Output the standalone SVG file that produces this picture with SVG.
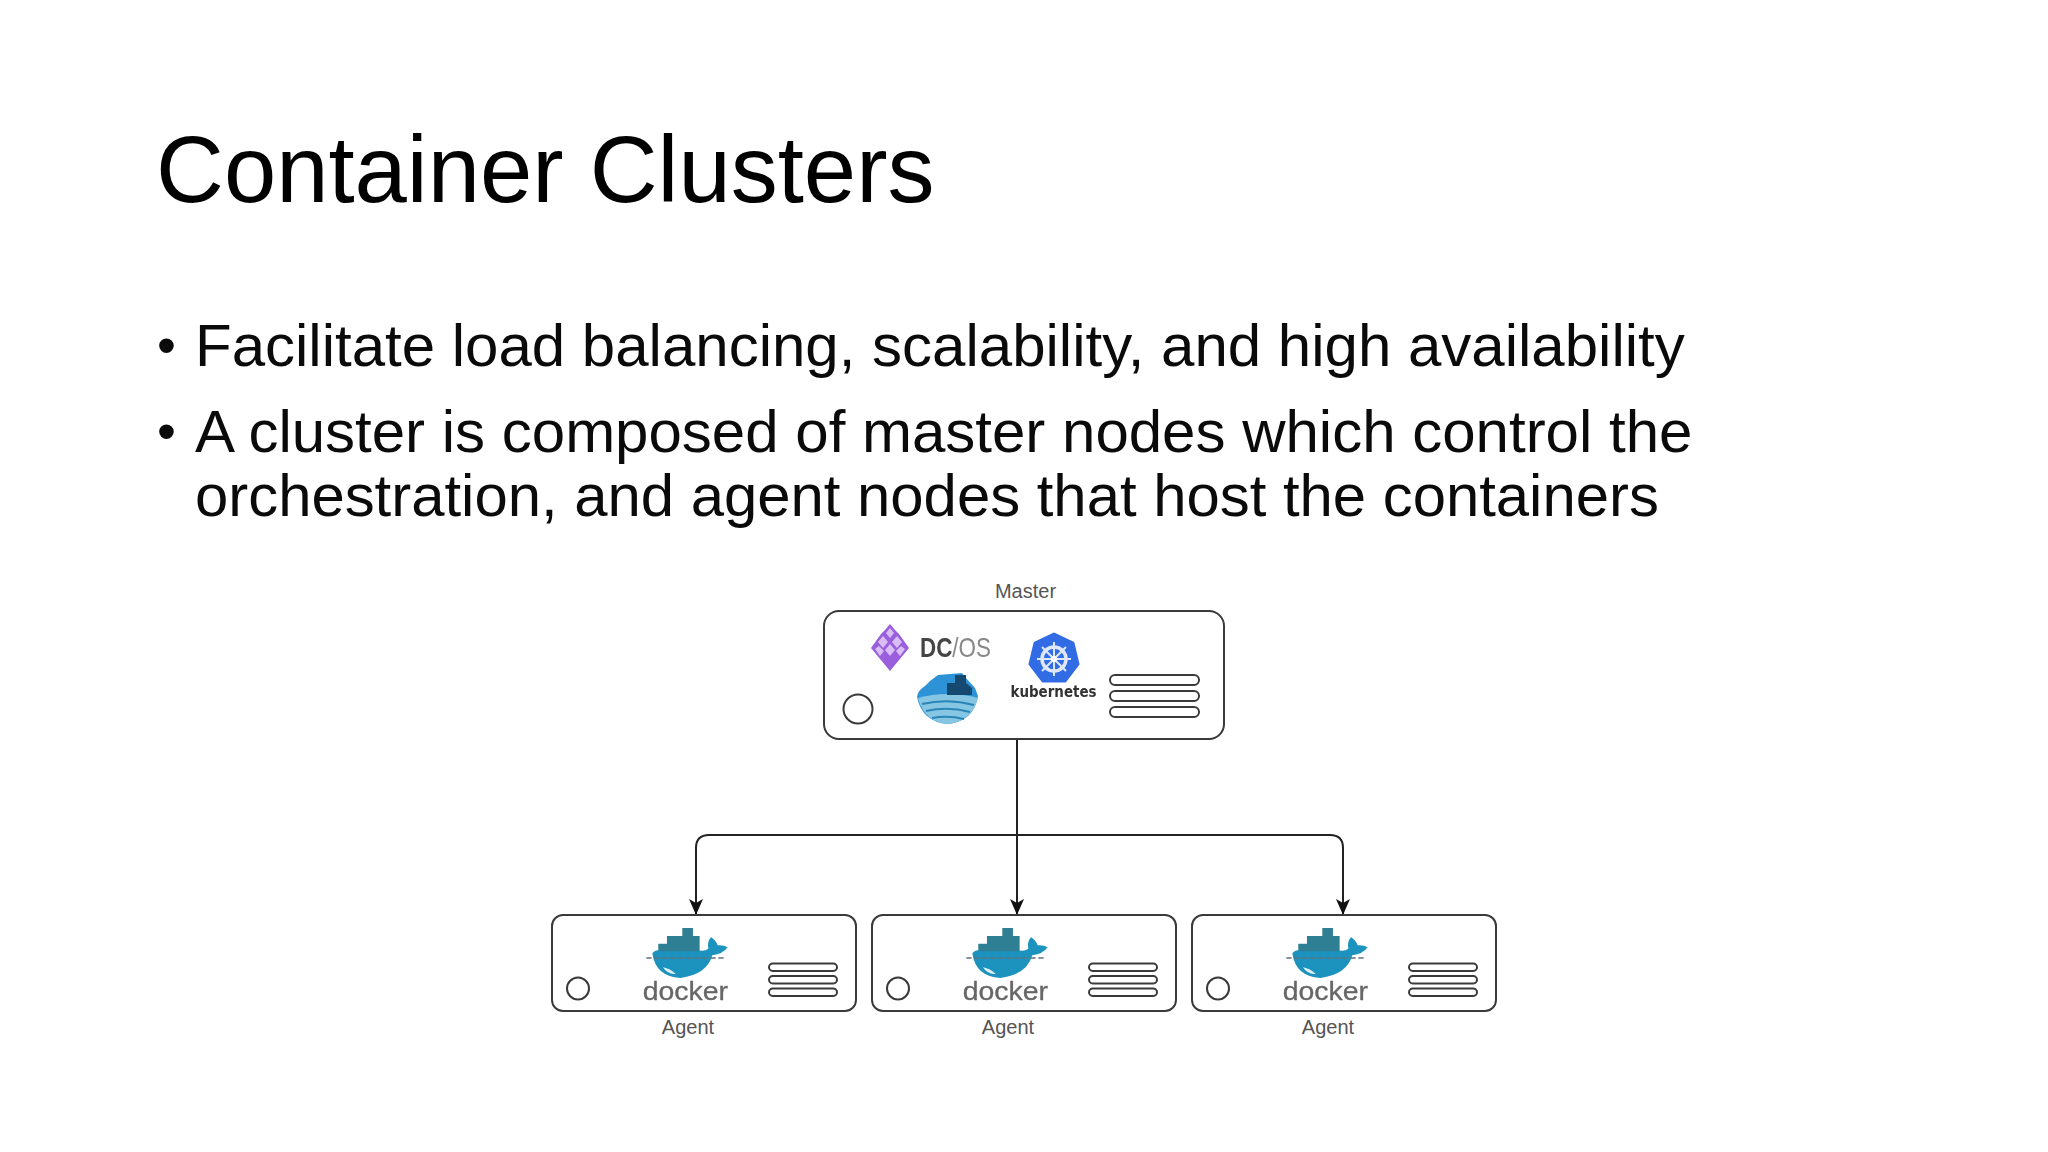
<svg xmlns="http://www.w3.org/2000/svg" width="2048" height="1152" viewBox="0 0 2048 1152">
<style>
text{font-family:"Liberation Sans",Arial,sans-serif}
.title{font-size:94px;fill:#000}
.body{font-size:60px;fill:#0a0a0a}
.bullet{font-size:54px;fill:#0a0a0a}
.lbl{font-size:20px;fill:#555;text-anchor:middle}
.box{fill:#fff;stroke:#3a3a3a;stroke-width:2}
.dot{fill:#fff;stroke:#3a3a3a;stroke-width:2}
.bar{fill:#fff;stroke:#3a3a3a;stroke-width:2}
.wire{fill:none;stroke:#222;stroke-width:2}
</style>
<defs>
<filter id="soft" x="-10%" y="-10%" width="120%" height="120%"><feGaussianBlur stdDeviation="0.6"/></filter>
<marker id="arr" markerUnits="userSpaceOnUse" markerWidth="16" markerHeight="14" refX="16" refY="7" orient="auto" viewBox="0 0 16 14"><path d="M0 0 L16 7 L0 14 L4 7 Z" fill="#111"/></marker>
<g id="bars">
<rect class="bar" x="0" y="0" width="68" height="7.500" rx="3.700"/>
<rect class="bar" x="0" y="12.500" width="68" height="7.500" rx="3.700"/>
<rect class="bar" x="0" y="25" width="68" height="7.500" rx="3.700"/>
</g>
<g id="whale" filter="url(#soft)" transform="translate(-21.7 -25) scale(.33333)">
<path d="M366 190 Q372 180 392 180 L500 180 Q522 186 534 176 Q530 155 542 142 Q556 150 562 166 Q578 164 592 172 Q578 192 546 196 Q530 254 450 264 Q376 260 366 190 Z" fill="#1e92bf"/>
<path d="M384 184 V161 H410 V138 H456 V114 H488 V138 H508 V184 Z" fill="#2f7f94"/>
<path d="M398 232 Q420 236 436 252 Q412 254 398 232 Z" fill="#dff0f5"/>
<path d="M348 204 H582" stroke="#5f747c" stroke-width="5" stroke-dasharray="16 8" fill="none"/>
<text x="465" y="329" font-size="80" fill="#666" stroke="#666" stroke-width="1" textLength="256" lengthAdjust="spacingAndGlyphs" text-anchor="middle">docker</text>
</g>
</defs>
<rect width="2048" height="1152" fill="#fff"/>
<text class="title" x="156" y="202">Container Clusters</text>
<text class="bullet" x="157" y="364">•</text>
<text class="body" x="195" y="365.500">Facilitate load balancing, scalability, and high availability</text>
<text class="bullet" x="157" y="450">•</text>
<text class="body" x="195" y="451.500">A cluster is composed of master nodes which control the</text>
<text class="body" x="195" y="516" style="font-size:59.850px">orchestration, and agent nodes that host the containers</text>

<g id="connectors">
<path class="wire" d="M1017 739 V915" marker-end="url(#arr)"/>
<path class="wire" d="M1017 835 H709 Q696 835 696 848 V915" marker-end="url(#arr)"/>
<path class="wire" d="M1017 835 H1330 Q1343 835 1343 848 V915" marker-end="url(#arr)"/>
</g>

<g id="master">
<text class="lbl" x="1025.500" y="598">Master</text>
<rect class="box" x="824" y="611" width="400" height="128" rx="15"/>
<circle class="dot" cx="858" cy="709" r="14.500"/>
<rect class="bar" x="1110" y="675" width="89" height="10" rx="5"/>
<rect class="bar" x="1110" y="691" width="89" height="10" rx="5"/>
<rect class="bar" x="1110" y="707" width="89" height="10" rx="5"/>
<g id="dcos-logo" filter="url(#soft)">
<path d="M890 624 L895 630 L899 634 L909 648 L890 671 L871 648 L881 634 L885 630 Z" fill="#9a5fdc"/>
<path d="M890 628 L894 633 L890 638 L886 633 Z M883 636 L888 642 L883 648 L878 642 Z M897 636 L902 642 L897 648 L892 642 Z M890 644 L895 650 L890 656 L885 650 Z M879 646 L884 651 L880 656 L875 649 Z M901 646 L905 649 L900 656 L896 651 Z" fill="#d9bdf5"/>
<text transform="translate(920 657) scale(.815 1)" font-size="27.500" fill="#444" font-weight="700">DC<tspan fill="#888" font-weight="400">/OS</tspan></text>
</g>
<g id="mesos-logo" filter="url(#soft)">
<path d="M917 697 Q918 690 925 686 L930 681 L938 675 L962 673 L966 678 L975 688 L978 696 Q974 721 948 724 Q922 722 917 697 Z" fill="#2f93d6"/>
<path d="M918 698 Q948 690 978 698 Q972 721 948 724 Q924 722 918 698 Z" fill="#86c6e2"/>
<path d="M922 704 Q948 698 974 705 M926 711 Q948 706 970 712 M932 718 Q948 715 964 719" stroke="#2a86b8" stroke-width="2" fill="none"/>
<path d="M947 695 V683 H955 V675 H966 V683 L972 688 V695 Z" fill="#17486f"/>
</g>
<g id="k8s-logo" filter="url(#soft)">
<path d="M1054 634 L1073 643 L1078 664 L1065 681 L1043 681 L1030 664 L1035 643 Z" fill="#326ce5" stroke="#326ce5" stroke-width="3" stroke-linejoin="round"/>
<circle cx="1054" cy="659" r="12" fill="none" stroke="#dfe8fb" stroke-width="3.500"/>
<path d="M1054 642 V676 M1037 659 H1071 M1042 647 L1066 671 M1066 647 L1042 671" stroke="#dfe8fb" stroke-width="2"/>
<circle cx="1054" cy="659" r="3" fill="#fff"/>
<text x="1053.500" y="696.500" font-size="15.500" font-weight="700" fill="#333" text-anchor="middle" textLength="86" lengthAdjust="spacingAndGlyphs" style="font-family:'DejaVu Sans',sans-serif">kubernetes</text>
</g>
</g>

<g id="agent1">
<rect class="box" x="552" y="915" width="304" height="96" rx="11"/>
<circle class="dot" cx="578" cy="988.500" r="11"/>
<use href="#bars" x="769" y="963.500"/>
<use href="#whale" x="552" y="915"/>
<text class="lbl" x="688" y="1034">Agent</text>
</g>
<g id="agent2">
<rect class="box" x="872" y="915" width="304" height="96" rx="11"/>
<circle class="dot" cx="898" cy="988.500" r="11"/>
<use href="#bars" x="1089" y="963.500"/>
<use href="#whale" x="872" y="915"/>
<text class="lbl" x="1008" y="1034">Agent</text>
</g>
<g id="agent3">
<rect class="box" x="1192" y="915" width="304" height="96" rx="11"/>
<circle class="dot" cx="1218" cy="988.500" r="11"/>
<use href="#bars" x="1409" y="963.500"/>
<use href="#whale" x="1192" y="915"/>
<text class="lbl" x="1328" y="1034">Agent</text>
</g>
</svg>
